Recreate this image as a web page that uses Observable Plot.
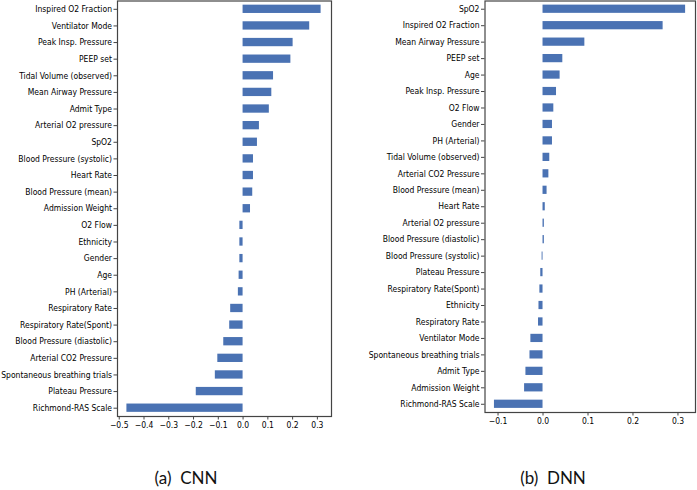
<!DOCTYPE html>
<html>
<head>
<meta charset="utf-8">
<script src="https://cdn.jsdelivr.net/npm/d3@7"></script>
<script src="https://cdn.jsdelivr.net/npm/@observablehq/plot@0.6"></script>
<style>
  html, body { margin: 0; padding: 0; background: #fff; }
  #wrap { position: relative; width: 697px; height: 490px; overflow: hidden; }
  .panel { position: absolute; top: 0; }
  .cap { position: absolute; top: 469px; font-family: Lato, "Open Sans", sans-serif; font-size: 17px; line-height: 1; color: #111; white-space: pre; transform: translateX(-50%); }
</style>
</head>
<body>
<div id="wrap">
  <div id="left" class="panel" style="left:0px"></div>
  <div id="right" class="panel" style="left:360px"></div>
  <div class="cap" style="left:186px">(a)  CNN</div>
  <div class="cap" style="left:553px">(b)  DNN</div>
</div>
<script>
const cnnFeatures = ["Inspired O2 Fraction","Ventilator Mode","Peak Insp. Pressure","PEEP set","Tidal Volume (observed)","Mean Airway Pressure","Admit Type","Arterial O2 pressure","SpO2","Blood Pressure (systolic)","Heart Rate","Blood Pressure (mean)","Admission Weight","O2 Flow","Ethnicity","Gender","Age","PH (Arterial)","Respiratory Rate","Respiratory Rate(Spont)","Blood Pressure (diastolic)","Arterial CO2 Pressure","Spontaneous breathing trials","Plateau Pressure","Richmond-RAS Scale"];
const cnnValues = [0.315,0.269,0.202,0.193,0.123,0.116,0.106,0.066,0.058,0.042,0.042,0.039,0.030,-0.013,-0.013,-0.013,-0.016,-0.019,-0.050,-0.054,-0.078,-0.102,-0.112,-0.189,-0.469];
const cnnTicks = [-0.5,-0.4,-0.3,-0.2,-0.1,0.0,0.1,0.2,0.3];

const dnnFeatures = ["SpO2","Inspired O2 Fraction","Mean Airway Pressure","PEEP set","Age","Peak Insp. Pressure","O2 Flow","Gender","PH (Arterial)","Tidal Volume (observed)","Arterial CO2 Pressure","Blood Pressure (mean)","Heart Rate","Arterial O2 pressure","Blood Pressure (diastolic)","Blood Pressure (systolic)","Plateau Pressure","Respiratory Rate(Spont)","Ethnicity","Respiratory Rate","Ventilator Mode","Spontaneous breathing trials","Admit Type","Admission Weight","Richmond-RAS Scale"];
const dnnValues = [0.317,0.267,0.093,0.044,0.038,0.030,0.024,0.021,0.021,0.015,0.013,0.009,0.005,0.003,0.003,-0.002,-0.005,-0.007,-0.009,-0.010,-0.027,-0.029,-0.038,-0.041,-0.108];
const dnnTicks = [-0.1,0.0,0.1,0.2,0.3];

const barColor = "#4a72b3";
const fmt = d3.format(".1f");

function panel({features, values, ticks, domain, width, height, marginLeft, marginRight, marginBottom}) {
  const data = features.map((f, i) => ({feature: f, value: values[i]}));
  return Plot.plot({
    width, height,
    marginLeft, marginRight, marginTop: 0.5, marginBottom,
    style: {fontFamily: "'DejaVu Sans Condensed', 'DejaVu Sans', sans-serif", fontSize: "8.5px", color: "#000", background: "#fff", overflow: "visible"},
    x: {domain, ticks, tickFormat: fmt, label: null},
    y: {domain: features, paddingInner: 0.5, paddingOuter: 0.25, round: false, label: null},
    marks: [
      Plot.barX(data, {x: "value", y: "feature", fill: barColor}),
      Plot.frame({stroke: "#444", strokeWidth: 1.2}),
      Plot.axisX({ticks, tickFormat: fmt, tickSize: 3.5, tickPadding: 2, stroke: "#444"}),
      Plot.axisY({tickSize: 3.5, tickPadding: 2, stroke: "#444"})
    ]
  });
}

document.getElementById("left").appendChild(panel({
  features: cnnFeatures, values: cnnValues, ticks: cnnTicks,
  domain: [-0.507, 0.357], width: 340, height: 436,
  marginLeft: 117, marginRight: 9, marginBottom: 20
}));
document.getElementById("right").appendChild(panel({
  features: dnnFeatures, values: dnnValues, ticks: dnnTicks,
  domain: [-0.129, 0.339], width: 337, height: 432,
  marginLeft: 124.5, marginRight: 2, marginBottom: 20
}));
</script>
</body>
</html>
